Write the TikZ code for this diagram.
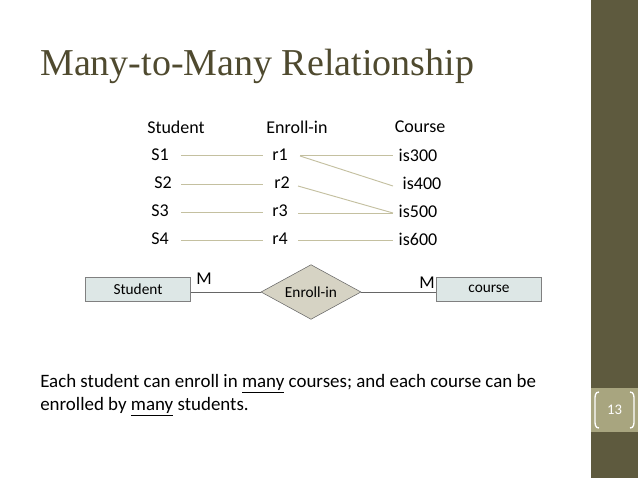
\documentclass[tikz,border=0pt]{standalone}
\usepackage{fontspec}
\setmainfont{Carlito}
\newfontfamily\titlefont{Liberation Serif}
\usetikzlibrary{shapes.geometric}
\definecolor{olive}{HTML}{5E5A3E}
\definecolor{olivelt}{HTML}{A8A57F}
\definecolor{titlecol}{HTML}{4F4A2F}
\definecolor{linecol}{HTML}{C4C0A0}
\definecolor{entfill}{HTML}{DDE7E6}
\definecolor{relfill}{HTML}{D6D3C4}
\tikzset{
 lbl/.style={font=\fontsize{13.5}{16}\selectfont, inner sep=1pt},
 maplink/.style={draw=linecol, line width=0.7pt},
 entity/.style={draw=gray, fill=entfill, minimum width=79pt, minimum height=18pt, font=\fontsize{11.5}{13}\selectfont, inner sep=0pt},
 rel/.style={diamond, draw=gray!80!black, fill=relfill, aspect=1.85, minimum width=75pt, minimum height=41pt, inner sep=0pt, font=\fontsize{11.5}{13}\selectfont},
}
\begin{document}
\begin{tikzpicture}[x=0.75pt,y=-0.75pt]
\useasboundingbox (0,0) rectangle (638,478);
\fill[white] (0,0) rectangle (638,478);
\fill[olive] (591,0) rectangle (638,478);
\fill[olivelt] (591,388) rectangle (638,432);
\draw[white, line width=1pt] (599,392) .. controls (595,392) and (595,396) .. (595,400) -- (595,420) .. controls (595,424) and (595,428) .. (599,428);
\draw[white, line width=1pt] (630,392) .. controls (634,392) and (634,396) .. (634,400) -- (634,420) .. controls (634,424) and (634,428) .. (630,428);
\node[font=\fontsize{11}{12}\selectfont, text=white] (pg) at (614.5,410) {13};
\node[anchor=base west, text=titlecol, font=\titlefont\fontsize{28.5}{32}\selectfont, inner sep=0pt] (title) at (40,75) {Many-to-Many Relationship};
\node[lbl] (hs) at (176,127) {Student};
\node[lbl] (he) at (297,127) {Enroll-in};
\node[lbl] (hc) at (420,127) {Course};
\node[lbl] (s1) at (160,155) {S1};
\node[lbl] (s2) at (163,183) {S2};
\node[lbl] (s3) at (160,211) {S3};
\node[lbl] (s4) at (160,239) {S4};
\node[lbl] (r1) at (280,155) {r1};
\node[lbl] (r2) at (282,183) {r2};
\node[lbl] (r3) at (280,211) {r3};
\node[lbl] (r4) at (280,239) {r4};
\node[lbl] (c1) at (418,155) {is300};
\node[lbl] (c2) at (422,183) {is400};
\node[lbl] (c3) at (418,211) {is500};
\node[lbl] (c4) at (418,239) {is600};
\draw[maplink] (181,155) -- (263,155);
\draw[maplink] (181,184) -- (263,184);
\draw[maplink] (181,212) -- (263,212);
\draw[maplink] (181,240) -- (263,240);
\draw[maplink] (300,155) -- (393,155);
\draw[maplink] (300,156) -- (393,186);
\draw[maplink] (298,186) -- (393,213);
\draw[maplink] (298,213) -- (393,213);
\draw[maplink] (298,240) -- (393,240);
\node[entity] (est) at (138,289) {Student};
\node[rel] (erel) at (311,292) {\raisebox{-3pt}{Enroll-in}};
\node[entity] (eco) at (489,289) {course};
\draw[gray!80!black] (est.east|-erel) -- (erel.west);
\draw[gray!80!black] (erel.east) -- (eco.west|-erel);
\node[lbl] (m1) at (204,279) {M};
\node[lbl] (m2) at (427,283) {M};
\node[anchor=base west, font=\fontsize{14.2}{17}\selectfont, inner sep=0pt] (t1) at (40,387) {Each student can enroll in \underline{many} courses; and each course can be};
\node[anchor=base west, font=\fontsize{14.2}{17}\selectfont, inner sep=0pt] (t2) at (40,410) {enrolled by \underline{many} students.};
\end{tikzpicture}
\end{document}
